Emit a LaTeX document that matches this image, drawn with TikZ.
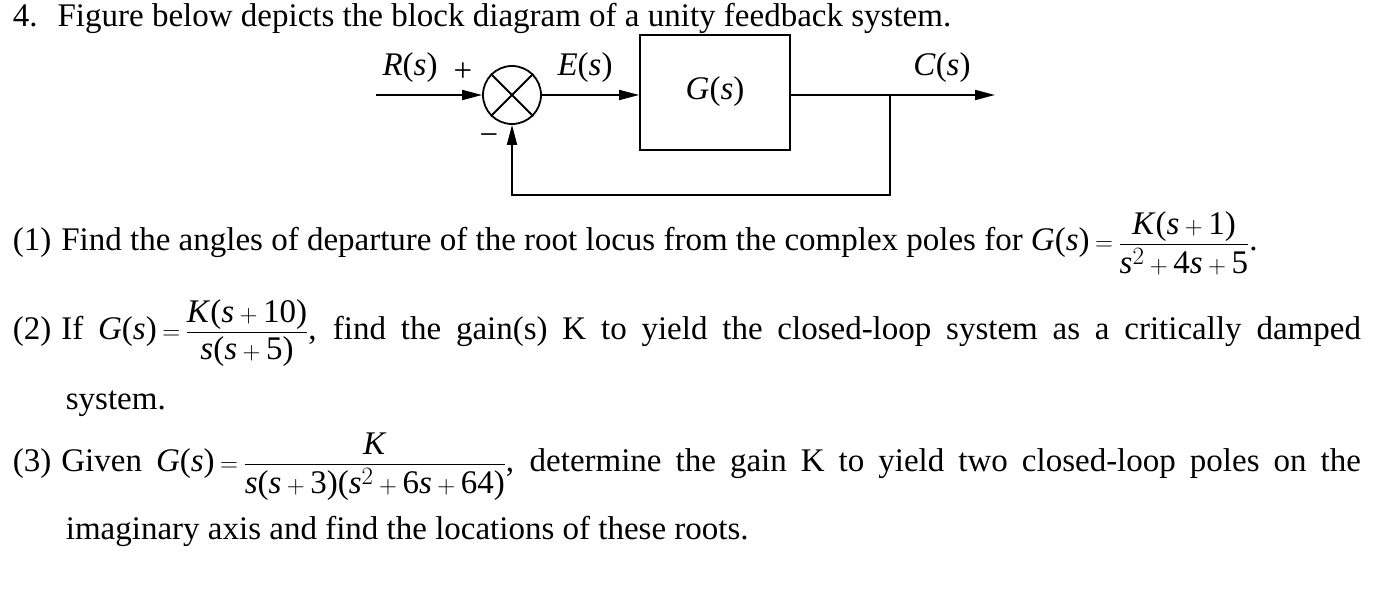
\documentclass[tikz,border=0pt]{standalone}
\usepackage{amsmath}
\usepackage{fontspec}
\setmainfont{Liberation Serif}
\usetikzlibrary{arrows.meta}
\newcommand{\vi}[1]{\textit{#1}}
\begin{document}
\begin{tikzpicture}[x=1pt,y=-1pt,line width=1.8pt,
  txt/.style={anchor=base west,inner sep=0pt,font=\fontsize{33}{40}\selectfont},
  lab/.style={inner sep=0pt,font=\fontsize{33}{40}\selectfont},
  arr/.style={-{Triangle[length=20pt,width=10pt]}}]
\useasboundingbox (0,0) rectangle (1387,596);
\node[txt] (t0) at (12,27) {4.\hspace{20pt}Figure below depicts the block diagram of a unity feedback system.};
% block diagram
\coordinate (in) at (376,95);
\node[circle,draw,minimum size=58pt,inner sep=0pt] (sum) at (512,95) {};
\draw (sum.45)--(sum.225) (sum.135)--(sum.315);
\node[draw,minimum width=150pt,minimum height=115pt] (G) at (715,92.5) {};
\node[lab] at (715,92) {\vi{G}(\vi{s})};
\coordinate (out) at (995,95);
\coordinate (br) at (890,95);
\coordinate (fb1) at (890,195);
\coordinate (fb2) at (512,195);
\draw[arr] (in)--(sum.west);
\draw[arr] (sum.east)--(G.west |- sum.east);
\draw[arr] (G.east |- out)--(out);
\draw[arr] (br)--(fb1)--(fb2)--(sum.south);
\node[lab] at (410,68) {\vi{R}(\vi{s})};
\node[lab] at (463,72) {+};
\node[lab] at (585,68) {\vi{E}(\vi{s})};
\node[lab] at (942,68) {\vi{C}(\vi{s})};
\node[lab] at (489,140) {\textminus};
% questions
\node[txt] (q1) at (12,251) {(1)\hspace{10pt}Find the angles of departure of the root locus from the complex poles for \vi{G}(\vi{s})\,$=$\,$\dfrac{\text{\vi{K}(\vi{s}\,$+$\,1)}}{\text{\vi{s}$^2$\,$+$\,4\vi{s}\,$+$\,5}}$.};
\node[txt,text width=1348pt,align=justify] (q2) at (12,339) {(2)\hspace{10pt}If \vi{G}(\vi{s})\,$=$\,$\dfrac{\text{\vi{K}(\vi{s}\,$+$\,10)}}{\text{\vi{s}(\vi{s}\,$+$\,5)}}$, find the gain(s) K to yield the closed-loop system as a critically damped\linebreak[4]};
\node[txt] (q2b) at (65,409) {system.};
\node[txt,text width=1348pt,align=justify] (q3) at (12,471) {(3)\hspace{10pt}Given \vi{G}(\vi{s})\,$=$\,$\dfrac{\text{\vi{K}}}{\text{\vi{s}(\vi{s}\,$+$\,3)(\vi{s}$^2$\,$+$\,6\vi{s}\,$+$\,64)}}$, determine the gain K to yield two closed-loop poles on the\linebreak[4]};
\node[txt] (q3b) at (65,539) {imaginary axis and find the locations of these roots.};
\end{tikzpicture}
\end{document}
